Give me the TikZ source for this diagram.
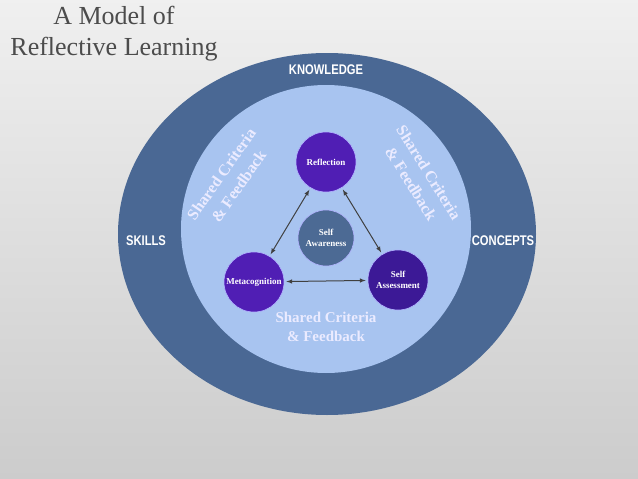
\documentclass[tikz,border=0pt]{standalone}
\usepackage{fontspec}
\setmainfont{Liberation Serif}
\newfontfamily\lsans{Liberation Sans}
\begin{document}
\begin{tikzpicture}[x=1pt,y=-1pt,
  bub/.style={circle,draw=white!70!blue,line width=0.6pt,inner sep=0pt,text=white,align=center,font=\fontsize{9}{10.5}\selectfont\bfseries},
  side/.style={text=white,font=\lsans\bfseries\fontsize{14}{15}\selectfont,xscale=0.8},
  scf/.style={text=white!92!blue,align=center,font=\fontsize{16}{17}\selectfont\bfseries},
  arr/.style={<->,>=latex,draw=black!75,line width=1pt,shorten >=2pt,shorten <=2pt}]
\shade[top color=white!88!gray,bottom color=black!20] (0,0) rectangle (638,479);
\useasboundingbox (0,0) rectangle (638,479);
\fill[color={rgb,255:red,74;green,104;blue,148}] (327,234) ellipse (209 and 181);
\fill[color={rgb,255:red,168;green,196;blue,240}] (326,229) ellipse (145 and 144);
\node[text=black!70,align=center,font=\fontsize{26}{31}\selectfont] (title) at (114,34) {A Model of\\Reflective Learning};
\node[side] (kn) at (326,70) {KNOWLEDGE};
\node[side] (sk) at (146,241) {SKILLS};
\node[side] (co) at (503,241) {CONCEPTS};
\node[bub,minimum size=60pt,fill={rgb,255:red,80;green,30;blue,180}] (ref) at (326,162) {Reflection};
\node[bub,minimum size=56pt,fill={rgb,255:red,76;green,106;blue,148}] (sa) at (326,238) {Self\\Awareness};
\node[bub,minimum size=60pt,fill={rgb,255:red,80;green,30;blue,180}] (mc) at (254,282) {Metacognition};
\node[bub,minimum size=60pt,fill={rgb,255:red,60;green,25;blue,150}] (as) at (398,280) {Self\\Assessment};
\draw[arr] (ref) -- (mc);
\draw[arr] (ref) -- (as);
\draw[arr] (mc) -- (as);
\node[scf,rotate=55,font=\fontsize{16}{21}\selectfont\bfseries] (l) at (230,180) {Shared Criteria\\\& Feedback};
\node[scf,rotate=-58,font=\fontsize{16}{21}\selectfont\bfseries] (r) at (420,178) {Shared Criteria\\\& Feedback};
\node[scf,font=\fontsize{15}{19}\selectfont\bfseries] (b) at (326,327) {Shared Criteria\\\& Feedback};
\end{tikzpicture}
\end{document}
